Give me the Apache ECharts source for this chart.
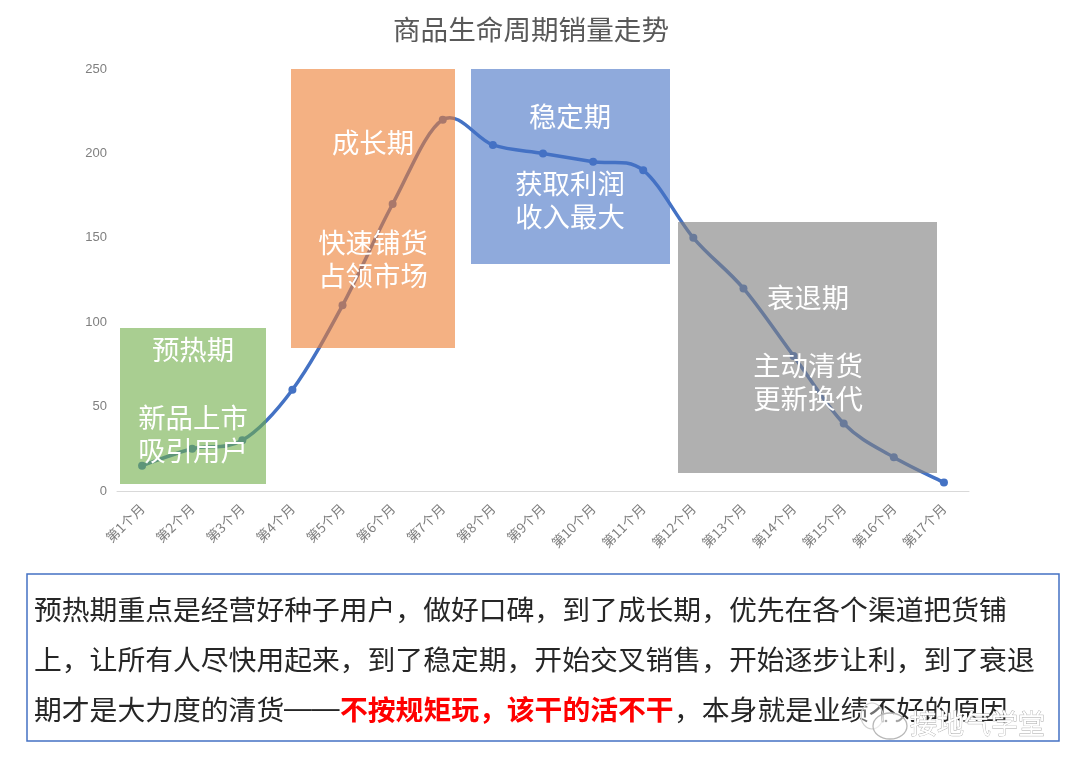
<!DOCTYPE html>
<html><head><meta charset="utf-8">
<style>html,body{margin:0;padding:0;background:#fff}#c{width:1080px;height:771px}</style>
<script src="https://cdn.jsdelivr.net/npm/echarts@6/dist/echarts.min.js"></script>
</head><body><div id="c"></div>
<script>
const titleText = '商品生命周期销量走势';
const months = ['第1个月','第2个月','第3个月','第4个月','第5个月','第6个月','第7个月','第8个月','第9个月','第10个月','第11个月','第12个月','第13个月','第14个月','第15个月','第16个月','第17个月'];
const sales = [15,25,30,60,110,170,220,205,200,195,190,150,120,80,40,20,5];
const yTicks = [0,50,100,150,200,250];
const line1 = '预热期重点是经营好种子用户，做好口碑，到了成长期，优先在各个渠道把货铺';
const line2 = '上，让所有人尽快用起来，到了稳定期，开始交叉销售，开始逐步让利，到了衰退';
const line3a = '期才是大力度的清货';
const line3dash = '——';
const line3b = '不按规矩玩，该干的活不干';
const line3c = '，本身就是业绩不好的原因';
const watermark = '接地气学堂';

const FF = '"Noto Sans CJK SC","Liberation Sans",sans-serif';
function rect(x,y,w,h,fill){return {type:'rect',z:10,shape:{x,y,width:w,height:h},style:{fill}};}
function lab(cx,cy,text){return {type:'text',z:11,x:cx,y:cy,style:{text,fill:'#fff',font:'27.4px '+FF,align:'center',verticalAlign:'middle',lineHeight:33}};}
function para(x,cy,text,fill,bold,fam){return {type:'text',z:11,x,y:cy,style:{text,fill:fill||'#262626',font:(bold?'bold ':'')+'27.8px '+(fam||FF),align:'left',verticalAlign:'middle'}};}

// Excel-style smoothed segment between point i and i+1, positioned by the axes
function renderSegment(params, api){
  const i = params.dataIndex, n = sales.length;
  if (i >= n-1) return null;
  const at = k => api.coord([Math.min(Math.max(k,0),n-1), sales[Math.min(Math.max(k,0),n-1)]]);
  const p0 = at(i-1), p1 = at(i), p2 = at(i+1), p3 = at(i+2);
  return {type:'bezierCurve',
    shape:{x1:p1[0],y1:p1[1],x2:p2[0],y2:p2[1],
      cpx1:p1[0]+(p2[0]-p0[0])/6,cpy1:p1[1]+(p2[1]-p0[1])/6,
      cpx2:p2[0]-(p3[0]-p1[0])/6,cpy2:p2[1]-(p3[1]-p1[1])/6},
    style:{stroke:'#4472C4',lineWidth:3.5,fill:null,lineCap:'round'}};
}

const chart = echarts.init(document.getElementById('c'));
chart.setOption({
  animation:false,
  backgroundColor:'#fff',
  title:{text:titleText,left:526,top:11,textAlign:'center',textStyle:{color:'#595959',fontSize:27.6,fontWeight:'normal',fontFamily:FF}},
  grid:{left:117,right:111,top:69,bottom:280},
  xAxis:{type:'category',data:months,boundaryGap:true,
    axisLine:{lineStyle:{color:'#d9d9d9',width:1}},axisTick:{show:false},
    axisLabel:{rotate:45,interval:0,color:'#7f7f7f',fontSize:13.5,fontFamily:FF,margin:15}},
  yAxis:{type:'value',min:yTicks[0],max:yTicks[yTicks.length-1],interval:50,
    axisLine:{show:false},axisTick:{show:false},splitLine:{show:false},
    axisLabel:{color:'#7f7f7f',fontSize:13,fontFamily:'"Liberation Sans",sans-serif',margin:10,padding:[2,0,0,0]}},
  series:[
    {type:'custom',data:sales.map((v,i)=>[i,v]),renderItem:renderSegment,encode:{x:0,y:1},silent:true,z:2},
    {type:'line',data:sales,symbol:'circle',symbolSize:8,
     lineStyle:{opacity:0},itemStyle:{color:'#4472C4'},z:3}
  ],
  graphic:[
    rect(120,328,146,156,'rgba(112,173,71,0.6)'),
    rect(291,69,164,279,'rgba(237,125,49,0.6)'),
    rect(471,69,199,195,'rgba(68,114,196,0.6)'),
    rect(678,222,259,251,'rgba(127,127,127,0.62)'),
    lab(193,350,'预热期'),
    lab(193,434,'新品上市\n吸引用户'),
    lab(373,143,'成长期'),
    lab(373,259,'快速铺货\n占领市场'),
    lab(570,117,'稳定期'),
    lab(570,200,'获取利润\n收入最大'),
    lab(808,298,'衰退期'),
    lab(808,382,'主动清货\n更新换代'),
    {type:'rect',z:9,shape:{x:27,y:574,width:1032,height:167},style:{fill:'#fff',stroke:'#4472C4',lineWidth:1.5}},
    para(34,609,line1),
    para(34,659,line2),
    para(34,709,line3a),
    para(284,709,line3dash,'#262626',false,'"Liberation Sans"'),
    para(340,709,line3b,'#ff0000',true),
    para(674,709,line3c),
    {type:'text',z:13,x:910,y:724,style:{text:watermark,fill:'#ffffff',stroke:'#a8a8a8',lineWidth:0.8,font:'27px '+FF,align:'left',verticalAlign:'middle'}},
    {type:'ellipse',z:13,shape:{cx:872,cy:716,rx:11,ry:13},style:{fill:'rgba(255,255,255,0.35)',stroke:'#d0d0d0',lineWidth:1.2}},
    {type:'ellipse',z:14,shape:{cx:890,cy:726,rx:17,ry:13},style:{fill:'rgba(255,255,255,0.55)',stroke:'#b8b8b8',lineWidth:1.3}},
    {type:'circle',z:15,shape:{cx:886,cy:721,r:1.3},style:{fill:'#a8a8a8'}},
    {type:'circle',z:15,shape:{cx:897,cy:721,r:1.3},style:{fill:'#a8a8a8'}}
  ]
});
</script></body></html>
